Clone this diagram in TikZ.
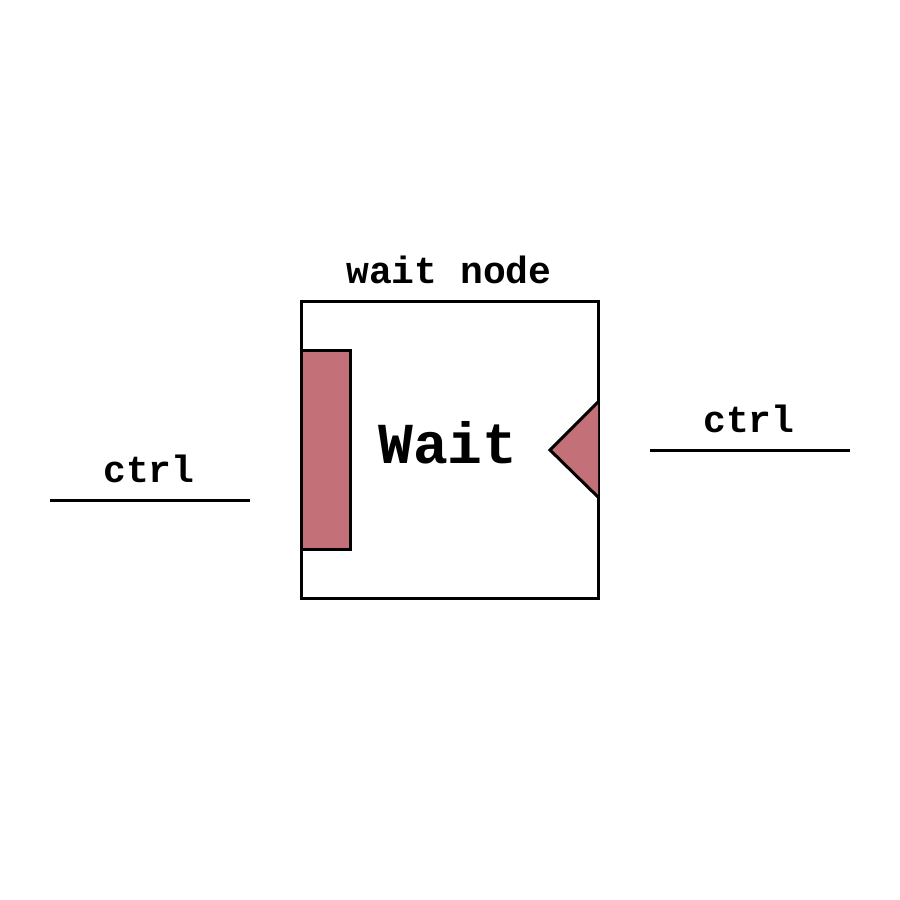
\documentclass[tikz,border=0pt]{standalone}
\usepackage{fontspec}
\setmonofont{Liberation Mono}
\definecolor{portred}{HTML}{C47078}
\begin{document}
\begin{tikzpicture}[x=1pt,y=-1pt,
  lbl/.style={font=\ttfamily\bfseries\fontsize{38}{38}\selectfont, inner sep=0pt},
  big/.style={font=\ttfamily\bfseries\fontsize{58}{58}\selectfont, inner sep=0pt},
  edge/.style={line width=3pt},
  port/.style={line width=3pt, fill=portred, line join=miter}]
\useasboundingbox (0,0) rectangle (900,900);
\fill[white] (0,0) rectangle (900,900);
\node[draw, line width=3pt, minimum width=297pt, minimum height=297pt, inner sep=0pt] (box) at (449.5,449.5) {};
\node[big, anchor=base] (wait) at (448,463) {Wait};
\node[lbl, anchor=base] (title) at (449,283) {wait node};
\draw[port] (301,350) rectangle (350,549);
\draw[port] (598,402) -- (550,450) -- (598,497);
\coordinate (l1) at (50,500);
\coordinate (l2) at (250,500);
\draw[edge] (l1) -- (l2);
\node[lbl, anchor=base] (lctrl) at (149,482) {ctrl};
\coordinate (r1) at (650,450);
\coordinate (r2) at (850,450);
\draw[edge] (r1) -- (r2);
\node[lbl, anchor=base] (rctrl) at (749,432) {ctrl};
\end{tikzpicture}
\end{document}
